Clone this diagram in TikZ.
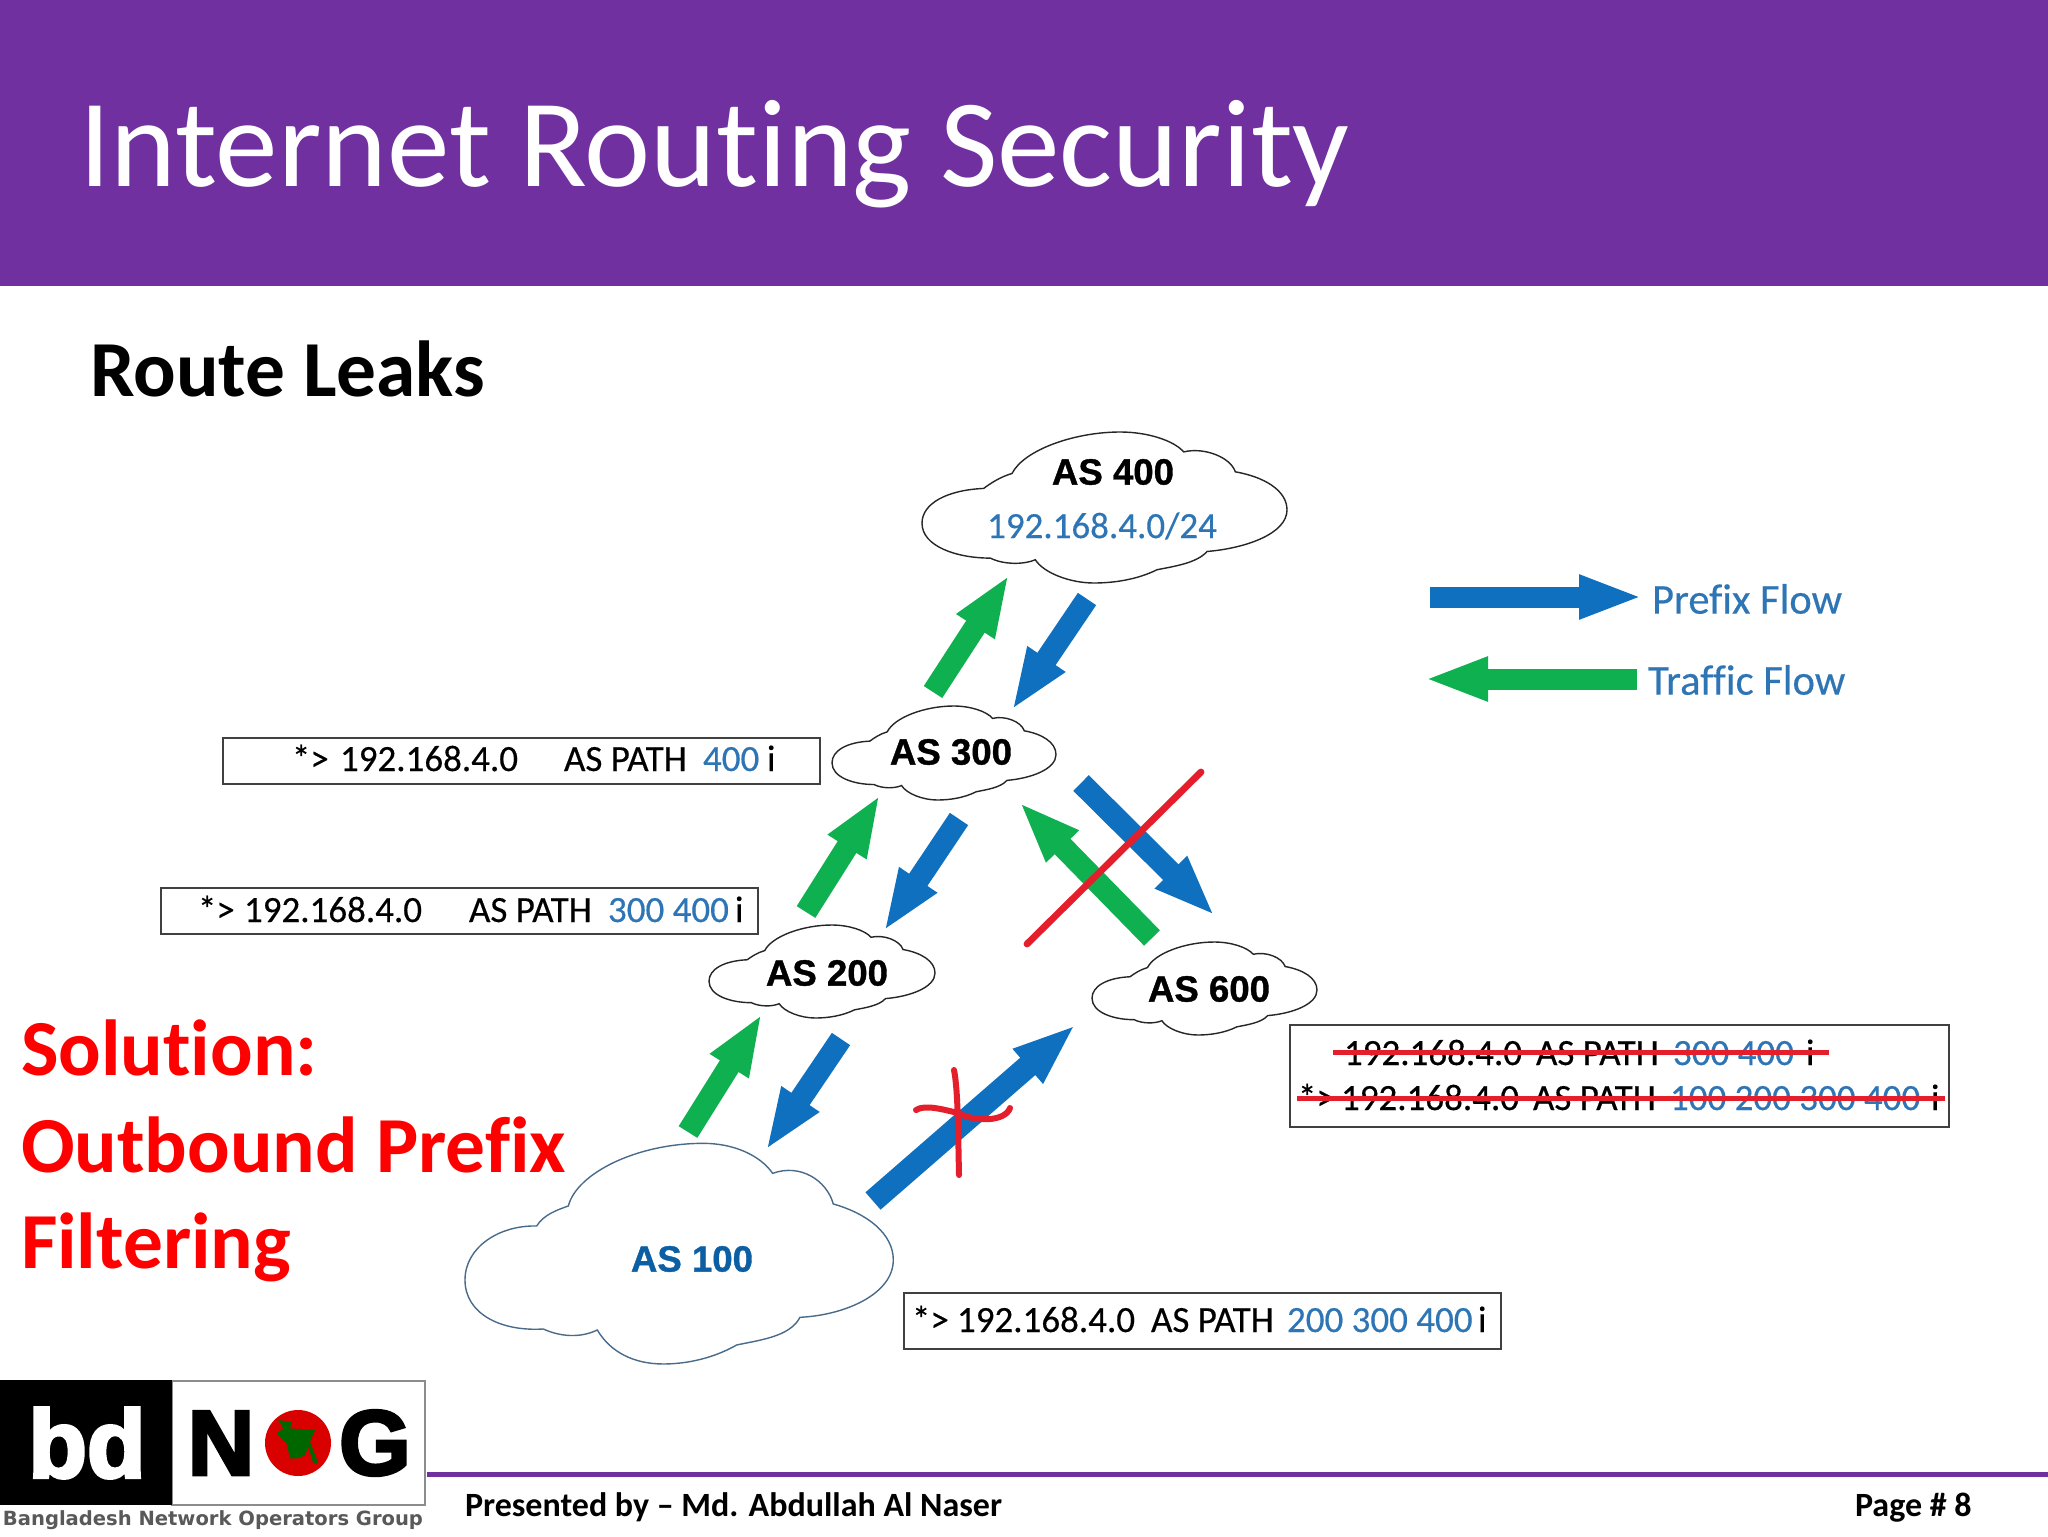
\documentclass[tikz,border=0pt]{standalone}
\usepackage{fontspec}
\usetikzlibrary{arrows.meta}
\setmainfont[Ligatures=CommonOff]{Carlito}
\newfontfamily\medfont[Ligatures=CommonOff,FakeBold=0.35]{Carlito}
\newfontfamily\asfont[FakeBold=1]{Liberation Sans Bold}
\newfontfamily\logofont[FakeBold=3.5]{Liberation Sans Bold}
\newfontfamily\smalllogo{DejaVu Sans Bold}
\definecolor{purp}{HTML}{7030A0}
\definecolor{bluet}{HTML}{2E75B6}
\definecolor{bluea}{HTML}{0F70C0}
\definecolor{greena}{HTML}{0FB050}
\definecolor{redx}{HTML}{E41E2B}
\tikzset{
  every node/.style={inner sep=0pt,outer sep=0pt},
  boxr/.style={draw=black!75,line width=0.8pt,fill=white},
  txt/.style={anchor=base west,font=\medfont\fontsize{18.5}{20}\selectfont},
  bluetxt/.style={txt,text=bluet},
  aslabel/.style={font=\asfont\fontsize{18.3}{20}\selectfont},
  gblock/.style={draw=greena,line width=#1,shorten >=-2pt,-{Triangle[length=31pt,width=20.5pt]}},
  bblock/.style={draw=bluea,line width=#1,shorten >=-2pt,-{Triangle[length=31pt,width=20.5pt]}},
  strike/.style={draw=redx,line width=2.5pt},
  redcross/.style={draw=redx,line width=3pt,line cap=round},
  cloudline/.style={draw=black!85,line width=0.7pt,fill=white},
  sol/.style={anchor=base west,text=red,font=\bfseries\fontsize{39.7}{40}\selectfont},
}
\newcommand{\cloudshape}[5]{%
  \pgfmathsetmacro{\sx}{(#4-#2)/1095}
  \pgfmathsetmacro{\sy}{(#5-#3)/455}
  \pgfmathsetmacro{\ox}{#2-125*\sx}
  \pgfmathsetmacro{\oy}{#3-35*\sy}
  \begin{scope}[shift={(\ox,\oy)},xscale=\sx,yscale=\sy]
  \path[cloudline,#1] (125,310)
  .. controls (125,250) and (200,210) .. (310,205)
  .. controls (330,190) and (360,170) .. (395,160)
  .. controls (430,90) and (580,35) .. (720,35)
  .. controls (800,35) and (880,60) .. (910,95)
  .. controls (970,80) and (1050,110) .. (1065,155)
  .. controls (1150,170) and (1220,210) .. (1220,270)
  .. controls (1220,340) and (1100,385) .. (980,395)
  .. controls (950,430) and (880,440) .. (830,450)
  .. controls (770,480) and (700,490) .. (640,490)
  .. controls (570,490) and (490,460) .. (465,420)
  .. controls (430,435) and (370,435) .. (330,415)
  .. controls (230,415) and (125,380) .. (125,310) -- cycle;
  \end{scope}}
\begin{document}
\begin{tikzpicture}[x=0.5pt,y=-0.5pt]
\useasboundingbox (0,0) rectangle (2048,1536);
\fill[white] (0,0) rectangle (2048,1536);
% header
\fill[purp] (0,0) rectangle (2048,286);
\node[anchor=base west,text=white,font=\fontsize{62.6}{64}\selectfont] (title) at (79,186) {Internet Routing Security};
\node[anchor=base west,font=\bfseries\fontsize{39.7}{40}\selectfont] (sub) at (90,396) {Route Leaks};
\node[sol] (s1) at (21,1075) {Solution:};
\node[sol] (s2) at (21,1172) {Outbound Prefix};
\node[sol] (s3) at (21,1268) {Filtering};
% clouds
\cloudshape{}{922}{432}{1287}{583}
\cloudshape{}{832}{706}{1056}{800}
\cloudshape{}{709}{925}{935}{1018}
\cloudshape{}{1092}{942}{1317}{1035}
\begin{scope}[shift={(450,1130)},scale=0.3333]
\path[cloudline,draw=black!40!bluet!80] (45,450)
  .. controls (45,350) and (150,285) .. (260,288)
  .. controls (280,255) and (320,240) .. (355,228)
  .. controls (380,130) and (560,40) .. (760,40)
  .. controls (850,40) and (930,75) .. (968,130)
  .. controls (1050,100) and (1130,150) .. (1150,222)
  .. controls (1250,250) and (1330,310) .. (1330,390)
  .. controls (1330,490) and (1190,555) .. (1050,562)
  .. controls (1020,620) and (930,630) .. (860,645)
  .. controls (790,685) and (710,702) .. (640,702)
  .. controls (550,702) and (480,665) .. (442,600)
  .. controls (390,625) and (330,620) .. (280,597)
  .. controls (150,605) and (45,550) .. (45,450) -- cycle;
\end{scope}
\node[aslabel] (as400) at (1113,472) {AS 400};
\node[font=\medfont\fontsize{18.5}{20}\selectfont,text=bluet] (pfx) at (1102,526) {192.168.4.0/24};
\node[aslabel] (as300) at (951,752) {AS 300};
\node[aslabel] (as200) at (827,973) {AS 200};
\node[aslabel] (as600) at (1209,989) {AS 600};
\node[aslabel,text=bluea!85!black] (as100) at (692,1259) {AS 100};
% arrows
\coordinate (g1a) at (933,692); \coordinate (g1b) at (1007,578);
\coordinate (b1a) at (1087,599); \coordinate (b1b) at (1014,707);
\coordinate (g2a) at (806,912); \coordinate (g2b) at (878,798);
\coordinate (b2a) at (959,819); \coordinate (b2b) at (886,928);
\coordinate (g3a) at (688,1132); \coordinate (g3b) at (760,1017);
\coordinate (b3a) at (841,1039); \coordinate (b3b) at (768,1147);
\coordinate (g4a) at (1152,938); \coordinate (g4b) at (1022,805);
\coordinate (b4a) at (1081,783); \coordinate (b4b) at (1212,913);
\coordinate (b5a) at (873,1201); \coordinate (b5b) at (1073,1027);
\draw[gblock=11pt] (g1a) -- (g1b);
\draw[bblock=11pt] (b1a) -- (b1b);
\draw[gblock=11pt] (g2a) -- (g2b);
\draw[bblock=11pt] (b2a) -- (b2b);
\draw[gblock=11pt] (g3a) -- (g3b);
\draw[bblock=11pt] (b3a) -- (b3b);
\draw[gblock=11pt] (g4a) -- (g4b);
\draw[bblock=11pt] (b4a) -- (b4b);
\draw[bblock=11.5pt,-{Triangle[length=32pt,width=20.5pt]}] (b5a) -- (b5b);
% red crosses
\coordinate (r1a) at (1201,772); \coordinate (r1b) at (1027,944);
\draw[redcross,line width=3.4pt] (r1a) -- (r1b);
\draw[redcross] (954,1070) .. controls (958,1090) and (958,1130) .. (959,1175);
\draw[redcross] (916,1110) .. controls (925,1104) and (945,1110) .. (958,1113) .. controls (975,1122) and (1005,1122) .. (1010,1108);
% legend
\coordinate (la) at (1430,597); \coordinate (lb) at (1639,597);
\coordinate (ma) at (1637,679); \coordinate (mb) at (1428,679);
\draw[bblock=10.5pt,-{Triangle[length=32pt,width=20pt]}] (la) -- (lb);
\draw[gblock=10.5pt,-{Triangle[length=32pt,width=20pt]}] (ma) -- (mb);
\node[anchor=west,text=bluet,font=\medfont\fontsize{21.3}{22}\selectfont] (lg1) at (1652,599) {Prefix Flow};
\node[anchor=west,text=bluet,font=\medfont\fontsize{21.3}{22}\selectfont] (lg2) at (1648,680) {Traffic Flow};
% box 1
\node[boxr,minimum width=298.5pt,minimum height=23pt,anchor=north west] (box1) at (223,738) {};
\node[txt] (b1t1) at (292,771) {*>};
\node[txt] (b1t2) at (340,771) {192.168.4.0};
\node[txt] (b1t3) at (564,771) {AS PATH};
\node[bluetxt] (b1t4) at (703,771) {400};
\node[txt] (b1t5) at (767,771) {i};
% box 2
\node[boxr,minimum width=298.5pt,minimum height=23pt,anchor=north west] (box2) at (161,888) {};
\node[txt] (b2t1) at (198,922) {*>};
\node[txt] (b2t2) at (244,922) {192.168.4.0};
\node[txt] (b2t3) at (469,922) {AS PATH};
\node[bluetxt] (b2t4) at (608,922) {300 400};
\node[txt] (b2t5) at (735,922) {i};
% box 4
\node[boxr,minimum width=298.5pt,minimum height=28pt,anchor=north west] (box4) at (904,1293) {};
\node[txt] (b4t1) at (912,1332) {*>};
\node[txt] (b4t2) at (957,1332) {192.168.4.0};
\node[txt] (b4t3) at (1151,1332) {AS PATH};
\node[bluetxt] (b4t4) at (1287,1332) {200 300 400};
\node[txt] (b4t5) at (1478,1332) {i};
% box 3
\node[boxr,minimum width=329.5pt,minimum height=51pt,anchor=north west] (box3) at (1290,1025) {};
\node[txt] (b3t2) at (1344,1065) {192.168.4.0};
\node[txt] (b3t3) at (1536,1065) {AS PATH};
\node[bluetxt] (b3t4) at (1673,1065) {300 400};
\node[txt] (b3t5) at (1806,1065) {i};
\node[txt] (b3u1) at (1298,1110) {*>};
\node[txt] (b3u2) at (1341,1110) {192.168.4.0};
\node[txt] (b3u3) at (1533,1110) {AS PATH};
\node[bluetxt] (b3u4) at (1670,1110) {100 200 300 400};
\node[txt] (b3u5) at (1931,1110) {i};
\coordinate (sa) at (1333,1052); \coordinate (sb) at (1829,1052);
\coordinate (ta) at (1297,1098); \coordinate (tb) at (1945,1098);
\draw[strike] (sa) -- (sb);
\draw[strike] (ta) -- (tb);
% footer
\fill[purp] (427,1471.5) rectangle (2048,1476.5);
\node[anchor=base west,font=\bfseries\fontsize{17}{20}\selectfont] (pres) at (465,1516) {Presented by -- Md. Abdullah Al Naser};
\node[anchor=base west,font=\bfseries\fontsize{17}{20}\selectfont] (page) at (1855,1516) {Page \# 8};
% logo
\fill[white] (172,1381) rectangle (425,1505);
\draw[black!45,line width=1pt] (172,1381) rectangle (425,1505);
\fill[black] (0,1380) rectangle (172,1505);
\node[text=white,font=\logofont\fontsize{48}{48}\selectfont] (lbd) at (87,1443) {bd};
\node[font=\logofont\fontsize{46}{46}\selectfont] (ln) at (221,1443) {N};
\node[font=\logofont\fontsize{46}{46}\selectfont] (lg) at (375,1443) {G};
\fill[red!85!black] (298,1443) circle (16.5pt);
\begin{scope}[shift={(255,1400)},scale=0.3333]
\fill[green!40!black] (70,60)--(110,65)--(105,85)--(180,90)--(165,125)--(190,190)--(175,190)--(160,140)--(150,165)--(130,175)--(105,175)--(95,130)--(65,100)--(85,85)--cycle;
\end{scope}
\node[text=black!65,font=\smalllogo\fontsize{9}{10}\selectfont,anchor=center] (lsub) at (213,1520) {\resizebox{210pt}{!}{Bangladesh Network Operators Group}};
\end{tikzpicture}
\end{document}
